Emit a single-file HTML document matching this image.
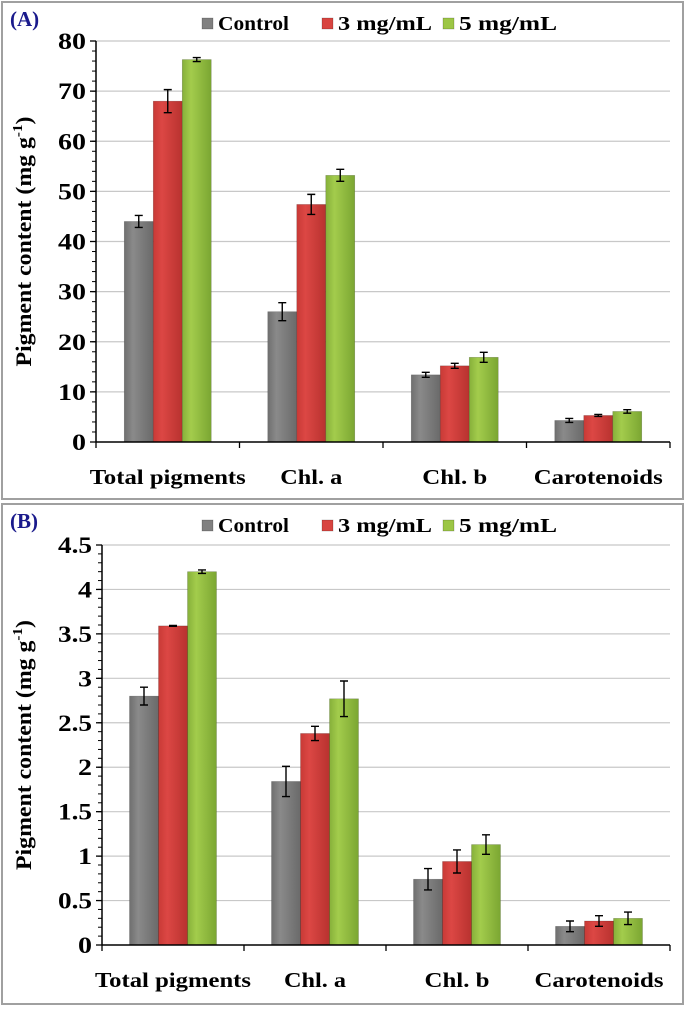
<!DOCTYPE html>
<html><head><meta charset="utf-8"><style>
body{margin:0;background:#fff;}
svg text, svg tspan{font-family:"Liberation Serif",serif;font-weight:bold;}
</style></head><body>
<svg id="c" width="685" height="1006" xmlns="http://www.w3.org/2000/svg">
<defs>
<linearGradient id="gGray" x1="0" x2="1"><stop offset="0" stop-color="#6f6f6f"/><stop offset="0.3" stop-color="#8a8a8a"/><stop offset="1" stop-color="#6a6a6a"/></linearGradient>
<linearGradient id="gRed" x1="0" x2="1"><stop offset="0" stop-color="#c83a36"/><stop offset="0.3" stop-color="#dc4744"/><stop offset="1" stop-color="#b8322f"/></linearGradient>
<linearGradient id="gGreen" x1="0" x2="1"><stop offset="0" stop-color="#86b03a"/><stop offset="0.3" stop-color="#a3cc4c"/><stop offset="1" stop-color="#7ba632"/></linearGradient>
</defs>
</svg>
<script>
const categories=["Total pigments","Chl. a","Chl. b","Carotenoids"];
const seriesNames=["Control","3 mg/mL","5 mg/mL"];
const aControl=[44,26,13.4,4.3];
const a3mg=[68,47.4,15.2,5.3];
const a5mg=[76.3,53.2,16.9,6.1];
const aErrControl=[1.2,1.8,0.5,0.4];
const aErr3mg=[2.3,2,0.5,0.2];
const aErr5mg=[0.4,1.2,1,0.35];
const aTicks=[0,10,20,30,40,50,60,70,80];
const bControl=[2.8,1.84,0.74,0.21];
const b3mg=[3.59,2.38,0.94,0.27];
const b5mg=[4.2,2.77,1.13,0.3];
const bErrControl=[0.1,0.17,0.12,0.06];
const bErr3mg=[0.005,0.08,0.13,0.06];
const bErr5mg=[0.02,0.2,0.11,0.07];
const bTicks=[0,0.5,1,1.5,2,2.5,3,3.5,4,4.5];

const NS="http://www.w3.org/2000/svg";
const svg=document.getElementById('c');
function mk(tag,attrs,parent,text){const e=document.createElementNS(NS,tag);for(const k in attrs)e.setAttribute(k,attrs[k]);if(text!==undefined)e.textContent=text;(parent||svg).appendChild(e);return e;}
const fills=["url(#gGray)","url(#gRed)","url(#gGreen)"];
const sw=["#808080","#d84440","#9cc645"];
const catW=[156,62,65,129];
const legW=[71,94,98];

function panel(o){
  const g=mk('g',{});
  
  
  const fr=mk('rect',{x:o.bx,y:o.by,width:681,height:o.bh,fill:'none',stroke:'#a0a0a0','stroke-width':2},g);
  
  
  const lab=mk('text',{x:o.bx+8,y:o.by+24,'font-size':21,fill:'#1a1a8c'},g,o.label);
  
  
  const max=o.ticks[o.ticks.length-1];
  const y=v=>o.y0-(v/max)*(o.y0-o.yTop);
  const cw=(o.xR-o.xL)/categories.length;
  const x=i=>o.xL+cw*(i+0.5);
  o.ticks.forEach((t,i)=>{
    if(i>0){const gl=mk('line',{x1:o.xL,x2:o.xR,y1:y(t),y2:y(t),stroke:'#c8c8c8','stroke-width':1.2},g);
    
    }
    const s=String(t);
    const tl=mk('text',{x:o.xL-10,y:y(t)+8,'font-size':23,'text-anchor':'end',fill:'#000',textLength:s.length*14-(s.includes('.')?8:0),lengthAdjust:'spacingAndGlyphs'},g,s);
    
    
    mk('line',{x1:o.xL-6,x2:o.xL,y1:y(t),y2:y(t),stroke:'#000','stroke-width':1.3},g);
  });
  const step=o.ticks[1]-o.ticks[0];
  for(let v=0;v<=max+1e-9;v+=step/5){mk('line',{x1:o.xL-4,x2:o.xL,y1:y(v),y2:y(v),stroke:'#000','stroke-width':1},g);}
  const bw=29;
  o.series.forEach((s,si)=>{
    s.forEach((v,i)=>{
      const bx=x(i)-1.5*bw+si*bw;
      const r=mk('rect',{x:bx,y:y(v),width:bw,height:o.y0-y(v),fill:fills[si],stroke:'rgba(0,0,0,0.25)','stroke-width':0.6},g);
      
      
      const e=o.errs[si][i];const cx=bx+bw/2;
      const eb=mk('path',{d:`M${cx},${y(v+e)}V${y(v-e)}M${cx-4},${y(v+e)}H${cx+4}M${cx-4},${y(v-e)}H${cx+4}`,stroke:'#000','stroke-width':1.4,fill:'none'},g);
      
      
    });
  });
  mk('line',{x1:o.xL,x2:o.xL,y1:o.yTop,y2:o.y0,stroke:'#000','stroke-width':1.5},g);
  mk('line',{x1:o.xL,x2:o.xR,y1:o.y0,y2:o.y0,stroke:'#000','stroke-width':1.5},g);
  for(let i=0;i<=categories.length;i++)mk('line',{x1:o.xL+cw*i,x2:o.xL+cw*i,y1:o.y0,y2:o.y0+6,stroke:'#000','stroke-width':1.3},g);
  categories.forEach((c,i)=>{
    const t=mk('text',{x:x(i),y:o.y0+42,'font-size':21,'text-anchor':'middle',textLength:catW[i],lengthAdjust:'spacingAndGlyphs'},g,c);
    
    
  });
  const yt=mk('text',{transform:`translate(${o.bx+29},${(o.yTop+o.y0)/2}) rotate(-90)`,'font-size':22,'text-anchor':'middle',textLength:250,lengthAdjust:'spacingAndGlyphs'},g);
  
  
  mk('tspan',{},yt,'Pigment content (mg g');
  mk('tspan',{dy:-9,'font-size':14},yt,'-1');
  mk('tspan',{dy:9},yt,')');
  const lx=[202,322,443];
  seriesNames.forEach((n,si)=>{
    const lg=mk('g',{},g);
    
    
    mk('rect',{x:lx[si],y:o.by+16,width:11,height:11,fill:sw[si],stroke:'rgba(0,0,0,0.3)','stroke-width':0.6},lg);
    mk('text',{x:lx[si]+16,y:o.by+28,'font-size':20,textLength:legW[si],lengthAdjust:'spacingAndGlyphs'},lg,n);
  });
}
panel({name:'panel-a',label:'(A)',bx:2,by:2,bh:497,xL:96,xR:670,yTop:41,y0:442,ticks:aTicks,
  series:[aControl,a3mg,a5mg],errs:[aErrControl,aErr3mg,aErr5mg]});
panel({name:'panel-b',label:'(B)',bx:2,by:504,bh:500,xL:102,xR:670,yTop:545,y0:945,ticks:bTicks,
  series:[bControl,b3mg,b5mg],errs:[bErrControl,bErr3mg,bErr5mg]});
</script>
</body></html>
